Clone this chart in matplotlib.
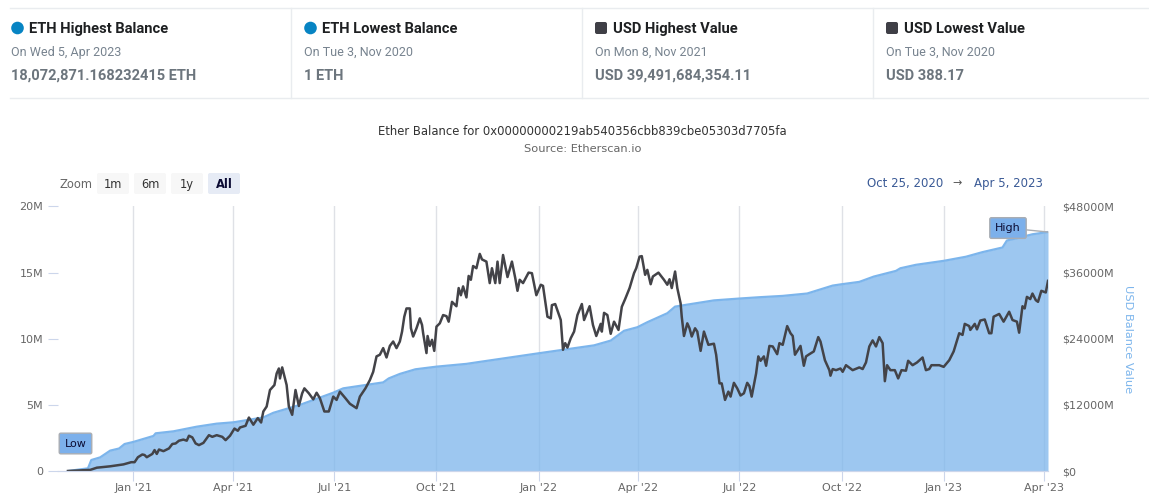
"""
Ether balance chart for the address 0x00000000219ab540356cbb839cbe05303d7705fa
"""

### Importing libraries
import numpy as np
import pandas as pd
import matplotlib
matplotlib.use('Agg')
import matplotlib.pyplot as plt
from matplotlib.patches import FancyBboxPatch, Circle
from matplotlib.ticker import FuncFormatter

### Define data
start_date = pd.Timestamp('2020-10-25') # days below are counted from this date

# ETH balance, millions of ETH
balance_days = [9, 27, 30, 38, 47, 55, 60, 68, 86, 88, 104, 125, 143, 158, 185, 194, 218, 248, 257, 293, 298,
                308, 322, 341, 368, 380, 433, 483, 498, 510, 522, 531, 549, 556, 567, 591, 614,
                632, 653, 675, 698, 706, 722, 735, 755, 759, 773, 798, 818, 833, 851, 855, 864, 878, 892]
balance_eth = [0, 0.2, 0.83, 1.03, 1.54, 1.7, 2.04, 2.2, 2.65, 2.85, 3.0, 3.35, 3.58, 3.68, 4.05, 4.4, 5.0, 5.92, 6.25, 6.7, 7.0,
               7.34, 7.69, 7.89, 8.1, 8.25, 8.9, 9.5, 9.86, 10.6, 10.87, 11.25, 11.93, 12.43, 12.58, 12.9, 13.04,
               13.14, 13.24, 13.42, 14.02, 14.12, 14.3, 14.7, 15.13, 15.33, 15.59, 15.89, 16.2, 16.55, 16.9, 17.43, 17.6, 17.9, 18.07]

# USD value of the balance, billions of USD
value_days = [9, 29, 35, 47, 59, 66, 69, 72, 76, 78, 80, 85, 87, 89, 91, 95, 98, 100, 103, 106, 109, 113, 116, 118, 121, 124,
              127, 131, 136, 139, 143, 148, 151, 155, 159, 162, 164, 169, 172, 176, 180, 183, 185, 188, 191, 195, 197, 199,
              200, 202, 206, 208, 211, 214, 217, 220, 222, 226, 230, 233, 236, 240, 244, 248, 251, 254, 259, 263, 269, 272,
              277, 281, 284, 287, 290, 293, 296, 299, 302, 305, 308,
              310, 312, 314, 317, 318, 320, 323, 326, 328, 329, 332, 333, 335, 337, 339, 341, 344, 347, 350, 352, 355, 359,
              361, 363, 365, 368, 370, 372, 374, 377, 380, 382, 386, 389, 391, 394, 396, 398, 401, 405, 409, 412, 414, 416,
              419, 424, 427, 431, 435, 437, 441, 444, 445, 448, 453, 455, 457, 459, 462, 465, 468, 472, 474, 479, 482, 485,
              489, 490, 492, 495, 498, 501, 505, 508, 511, 515, 519, 521, 524, 526, 529, 531, 534, 536, 541, 546, 549, 551,
              553, 556, 558, 561, 562, 564, 567, 569, 571, 574, 576, 579, 582, 586, 591, 593, 596, 598, 601, 604, 606, 609,
              612, 615, 618, 621, 623, 625,
              629, 631, 633, 636, 638, 641, 644, 648, 650, 653, 657, 660, 662, 664, 669, 672, 674, 677, 681, 685, 687, 691,
              695, 696, 698, 701, 705, 707, 710, 716, 722, 725, 728, 731, 734, 737, 740, 743, 745, 747, 750, 754, 757, 760,
              764, 766, 770, 774, 779, 782, 785, 787, 794, 798, 803, 807, 812, 815, 817, 821, 822, 826, 828, 831, 835, 839,
              841, 843, 848, 852, 857, 860, 864, 866, 869, 871, 873, 876, 878, 881, 883, 886, 890, 892]
value_usd = [0, 0.2, 0.6, 0.85, 1.2, 1.6, 1.6, 2.5, 3.0, 2.9, 2.5, 3.1, 3.8, 3.1, 3.9, 3.6, 3.9, 4.1, 4.9, 5.0, 5.5, 5.7, 5.5, 6.4, 6.1, 5.0,
             4.7, 5.1, 6.5, 6.2, 6.5, 6.2, 5.6, 6.4, 7.7, 7.3, 7.9, 8.2, 9.7, 8.4, 9.6, 8.8, 10.8, 11.7, 14.7, 15.6, 17.7, 18.6,
             16.8, 18.8, 15.6, 11.7, 10.2, 14.7, 11.8, 14.1, 15.0, 14.1, 13.0, 14.2, 13.2, 10.8, 10.8, 13.5, 12.9, 14.4, 13.2, 12.2, 11.4, 13.5,
             15.0, 16.5, 18.0, 20.8, 21.1, 22.3, 20.6, 22.7, 23.5, 22.3, 23.5,
             25.3, 28.0, 29.5, 29.5, 25.9, 24.4, 25.9, 27.7, 26.5, 25.0, 21.4, 24.5, 22.7, 23.8, 21.8, 26.2, 26.8, 28.3, 28.1, 27.1, 30.7, 29.9,
             33.2, 31.9, 33.5, 31.5, 35.4, 34.7, 37.2, 36.8, 39.4, 38.4, 38.0, 34.1, 36.8, 34.1, 38.0, 34.1, 39.2, 35.2, 38.0, 35.0, 32.7, 34.7,
             34.1, 36.0, 35.9, 31.9, 33.8, 33.6, 28.0, 27.7, 30.1, 30.3, 27.4, 22.0, 23.2, 22.4, 24.1, 25.3, 28.3, 30.3, 27.4, 29.9, 26.5, 24.5,
             26.7, 25.3, 28.7, 28.3, 24.9, 27.1, 25.6, 29.8, 31.2, 33.2, 35.9, 36.8, 38.9, 39.0, 35.6, 36.5, 33.9, 35.3, 36.0, 34.7, 33.8, 34.8,
             33.2, 36.2, 33.2, 30.4, 28.0, 24.5, 26.8, 25.9, 24.4, 25.9, 25.3, 21.8, 25.3, 22.9, 23.1, 21.1, 15.9, 15.9, 12.9, 14.4, 13.5, 16.0,
             15.0, 13.7, 14.1, 16.0, 15.4, 13.5,
             17.7, 20.8, 20.0, 20.8, 19.1, 22.7, 22.6, 21.2, 23.2, 22.9, 26.3, 25.0, 24.5, 21.1, 22.7, 19.1, 20.8, 21.2, 21.7, 24.3, 23.5, 20.1,
             18.3, 17.3, 18.5, 18.3, 18.6, 18.0, 19.2, 18.3, 18.8, 18.5, 19.7, 22.6, 23.7, 22.6, 24.3, 23.2, 16.3, 19.2, 18.3, 18.3, 16.8, 18.3,
             18.2, 20.0, 19.2, 19.7, 20.6, 18.3, 18.5, 19.2, 19.2, 18.9, 20.1, 21.7, 25.0, 24.7, 26.7, 26.3, 25.6, 26.7, 25.7, 27.3, 27.5, 25.0,
             25.0, 28.0, 28.5, 27.1, 28.9, 27.4, 27.1, 25.1, 29.9, 29.5, 31.6, 31.2, 32.2, 31.0, 30.7, 32.7, 32.4, 34.5]

# axis ticks
month_ticks  = ['2021-01-01', '2021-04-01', '2021-07-01', '2021-10-01', '2022-01-01',
                '2022-04-01', '2022-07-01', '2022-10-01', '2023-01-01', '2023-04-01']
month_labels = ["Jan '21", "Apr '21", "Jul '21", "Oct '21", "Jan '22",
                "Apr '22", "Jul '22", "Oct '22", "Jan '23", "Apr '23"]
eth_ticks    = [0, 5, 10, 15, 20]
usd_ticks    = [0, 12000, 24000, 36000, 48000]

# summary cards above the chart
card_titles  = ['ETH Highest Balance', 'ETH Lowest Balance', 'USD Highest Value', 'USD Lowest Value']
card_dates   = ['On Wed 5, Apr 2023', 'On Tue 3, Nov 2020', 'On Mon 8, Nov 2021', 'On Tue 3, Nov 2020']
card_values  = ['18,072,871.168232415 ETH', '1 ETH', 'USD 39,491,684,354.11', 'USD 388.17']
zoom_buttons = ['1m', '6m', '1y', 'All']

### Styling
width, height = 1149, 498
text_color  = '#666666'
axis_color  = '#ccd6eb'
area_color  = '#7cb5ec'
line_color  = '#434348'
range_color = '#3a5a96'
card_line   = '#e9ecef'

### Convert to dates
balance_dates = start_date + pd.to_timedelta(balance_days, unit='D')
value_dates   = start_date + pd.to_timedelta(value_days, unit='D')
tick_dates    = pd.to_datetime(month_ticks)

### Make the figure
fig = plt.figure(figsize=(width / 100, height / 100), dpi=100)

# chart axes, placed in pixels
left, right, top, bottom = 58, 1048, 206.5, 471
ax1 = fig.add_axes([left / width, 1 - bottom / height, (right - left) / width, (bottom - top) / height])
ax2 = ax1.twinx()

# balance area
ax1.fill_between(balance_dates, balance_eth, 0, color=area_color, alpha=0.75, linewidth=0, zorder=2)
ax1.plot(balance_dates, balance_eth, color=area_color, linewidth=1.6, zorder=3)

# usd line on top
ax2.plot(value_dates, np.array(value_usd) * 1000, color=line_color, linewidth=1.8, solid_joinstyle='round')

# axis controls
ax1.set_xlim(start_date, balance_dates[-1])
ax1.set_ylim(0, 20)
ax2.set_ylim(0, 48000)
ax1.set_xticks(tick_dates)
ax1.set_xticklabels(month_labels)
ax1.set_yticks(eth_ticks)
ax1.yaxis.set_major_formatter(FuncFormatter(lambda v, p: '0' if v == 0 else f'{v:.0f}M'))
ax2.set_yticks(usd_ticks)
ax2.yaxis.set_major_formatter(FuncFormatter(lambda v, p: '$0' if v == 0 else f'${v:.0f}M'))
ax1.grid(axis='x', color='#dfe1e6', linewidth=1)
ax1.set_axisbelow(True)

for ax in (ax1, ax2):
    for name, sp in ax.spines.items():
        sp.set_visible(name == 'bottom')
        sp.set_color(axis_color)
ax1.tick_params(axis='x', length=7.2, width=0.8, color=axis_color, labelcolor=text_color, labelsize=8, pad=1.5)
ax1.tick_params(axis='y', length=7.2, width=0.8, color=axis_color, labelcolor=text_color, labelsize=8, pad=3.5)
ax2.tick_params(axis='y', length=0, labelcolor=text_color, labelsize=8, pad=10.5)
ax2.set_ylabel('USD Balance Value', color=area_color, fontsize=8.2, rotation=270, labelpad=13.5)

# low and high flags
flag_box = dict(boxstyle='round,pad=0.48,rounding_size=0.15', fc='#7cb0eb', ec='#a9adb3', lw=1)
ax2.annotate('Low', xy=(value_dates[0], 0), xytext=(7.5, 27.5), textcoords='offset pixels',
             ha='center', va='center', fontsize=8, color='#0b0b33', bbox=flag_box, annotation_clip=False, zorder=6)
ax2.annotate('High', xy=(balance_dates[-1], balance_eth[-1] * 2400), xytext=(-40, 4), textcoords='offset pixels',
             ha='center', va='center', fontsize=8, color='#0b0b33', bbox=flag_box, annotation_clip=False, zorder=6,
             arrowprops=dict(arrowstyle='-', color='#a9adb3', lw=1, shrinkA=0, shrinkB=0))

### Page furniture, in pixel coordinates
page = fig.add_axes([0, 0, 1, 1], zorder=10)
page.set_xlim(0, width)
page.set_ylim(height, 0)
page.axis('off')
page.patch.set_visible(False)

# summary cards
page.plot([10, 1149], [8, 8], color=card_line, linewidth=1)
page.plot([10, 1149], [98, 98], color=card_line, linewidth=1)
card_x = [11, 304, 595, 886]
for i in range(4):
    x = card_x[i]
    if i > 0:
        page.plot([x - 13.5, x - 13.5], [8, 98], color=card_line, linewidth=1)
    if i < 2:
        page.add_patch(Circle((x + 6.5, 28), 6.3, fc='#0784c3', ec='none'))
    else:
        page.add_patch(FancyBboxPatch((x + 1, 23), 10, 10, boxstyle='round,pad=1,rounding_size=2', fc='#3f3f46', ec='none'))
    page.text(x + 18, 28.5, card_titles[i], family='Roboto', weight='bold', fontsize=10.6, color='#1e2022', va='center')
    page.text(x, 52.5, card_dates[i], family='Roboto', fontsize=9, color='#77838f', va='center')
    page.text(x, 75.5, card_values[i], family='Roboto', weight='bold', fontsize=10.5, color='#6c757d', va='center')

# titles
page.text(582.5, 131.5, 'Ether Balance for 0x00000000219ab540356cbb839cbe05303d7705fa', ha='center', va='center',
          fontsize=8.4, color='#333333')
page.text(582.5, 148.5, 'Source: Etherscan.io', ha='center', va='center', fontsize=8.2, color=text_color)

# range selector
page.text(59, 184, 'Zoom', fontsize=8.3, color=text_color, va='center')
button_x = [97, 134, 171, 208]
for label, x in zip(zoom_buttons, button_x):
    active = label == 'All'
    page.add_patch(FancyBboxPatch((x + 2, 175), 28, 17, boxstyle='round,pad=2,rounding_size=2',
                                  fc='#e6ebf5' if active else '#f7f7f7', ec='none'))
    page.text(x + 16, 184, label, ha='center', va='center', fontsize=8.3, color='#0b0b33' if active else '#333333',
              weight='bold' if active else 'normal')

# date range
page.text(943, 183, 'Oct 25, 2020', ha='right', va='center', fontsize=8.5, color=range_color)
page.text(957, 183, '\u2192', ha='center', va='center', fontsize=8, color='#555555')
page.text(1043, 183, 'Apr 5, 2023', ha='right', va='center', fontsize=8.5, color=range_color)

plt.savefig('out.png', dpi=100)
